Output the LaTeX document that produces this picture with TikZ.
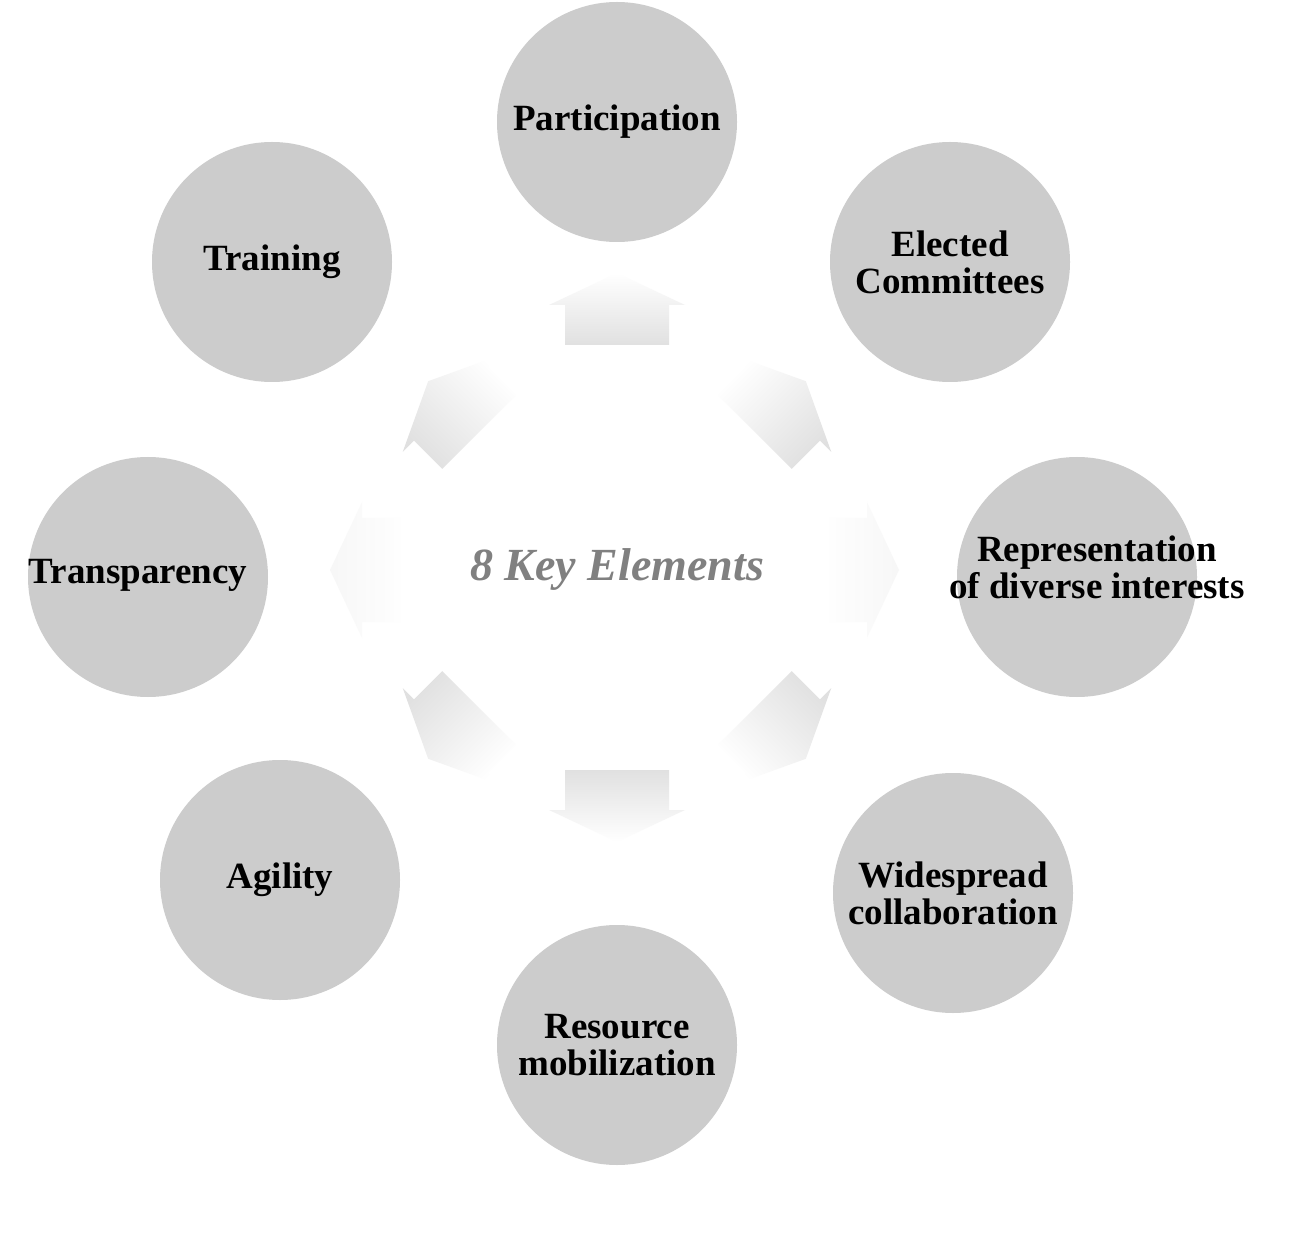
\documentclass[tikz,border=0pt]{standalone}
\usepackage{fontspec}
\setmainfont{Liberation Serif}
\begin{document}
\begin{tikzpicture}[x=1pt,y=-1pt,
  elem/.style={circle,fill=black!20,minimum size=240pt,inner sep=0pt,align=center,
    font=\fontsize{37}{37}\selectfont\bfseries},
  ]
\useasboundingbox (0,0) rectangle (1294,1246);
\fill[white] (0,0) rectangle (1294,1246);
\node[elem] (p) at (617,122) {Participation};
\node[elem] (e) at (950,262) {Elected\\Committees};
\node[elem] (r) at (1077,577) {};
\node[font=\fontsize{37}{37}\selectfont\bfseries,align=center] (rt) at (1097,567) {Representation\\of diverse interests};
\node[elem] (w) at (953,893) {Widespread\\collaboration};
\node[elem] (m) at (617,1045) {Resource\\mobilization};
\node[elem] (a) at (280,880) {Agility};
\node[elem] (t) at (148,577) {};
\node[font=\fontsize{37}{37}\selectfont\bfseries] (tt) at (138,575) {Transparency};
\node[elem] (tr) at (272,262) {Training};
\node[text=black!50,font=\fontsize{46}{46}\selectfont\bfseries\itshape] (c) at (617,570) {8 Key Elements};
\foreach \ang/\d/\op in {90/270/1,45/265/1,0/280/0.25,-45/265/1,-90/295/1,-135/265/1,180/285/0.25,135/265/1}{
  \begin{scope}[shift={(617,570)},rotate=-\ang,shift={(\d-35,0)}]
    \shade[top color=black!12,bottom color=white,shading angle=\ang-90,opacity=\op]
      (-35,-52) -- (5,-52) -- (5,-68) -- (37,0) -- (5,68) -- (5,52) -- (-35,52) -- cycle;
  \end{scope}
}
\end{tikzpicture}
\end{document}
